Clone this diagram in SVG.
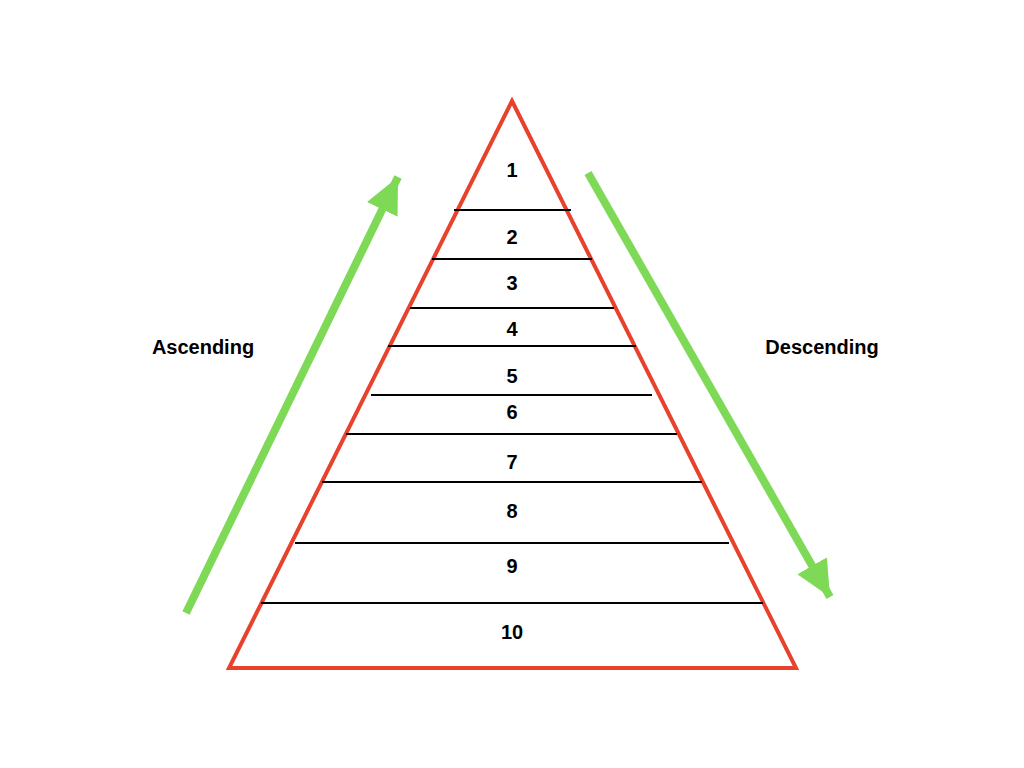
<svg xmlns="http://www.w3.org/2000/svg" width="1024" height="768" viewBox="0 0 1024 768">
<style>
.t{font-family:"Liberation Sans",Arial,sans-serif;font-weight:bold;font-size:20px;text-anchor:middle;fill:#000}
.d{stroke:#000;stroke-width:2}
.g{stroke:#7ED957;stroke-width:8;fill:none}
</style>
<defs>
<marker id="ah" markerUnits="userSpaceOnUse" markerWidth="40" markerHeight="36" refX="36" refY="17" orient="auto">
<path d="M0,0 L36,17 L0,34 z" fill="#7ED957"/>
</marker>
</defs>
<rect width="1024" height="768" fill="#fff"/>
<g id="pyramid">
<polygon points="512,101 796,668 229,668" fill="none" stroke="#E8412C" stroke-width="4"/>
<line class="d" x1="454" y1="210" x2="571" y2="210"/>
<line class="d" x1="432" y1="259" x2="592" y2="259"/>
<line class="d" x1="410" y1="308" x2="614" y2="308"/>
<line class="d" x1="388" y1="346" x2="636" y2="346"/>
<line class="d" x1="371" y1="395" x2="652" y2="395"/>
<line class="d" x1="346" y1="434" x2="677" y2="434"/>
<line class="d" x1="322" y1="482" x2="702" y2="482"/>
<line class="d" x1="295" y1="543" x2="729" y2="543"/>
<line class="d" x1="261" y1="603" x2="763" y2="603"/>
<text class="t" x="512" y="177">1</text>
<text class="t" x="512" y="244">2</text>
<text class="t" x="512" y="290">3</text>
<text class="t" x="512" y="336">4</text>
<text class="t" x="512" y="383">5</text>
<text class="t" x="512" y="419">6</text>
<text class="t" x="512" y="469">7</text>
<text class="t" x="512" y="518">8</text>
<text class="t" x="512" y="573">9</text>
<text class="t" x="512" y="639">10</text>
</g>
<g id="connectors">
<line class="g" x1="186" y1="613" x2="398" y2="177" marker-end="url(#ah)"/>
<line class="g" x1="588" y1="173" x2="830" y2="597" marker-end="url(#ah)"/>
</g>
<g id="labels">
<text class="t" x="203" y="354">Ascending</text>
<text class="t" x="822" y="354">Descending</text>
</g>
</svg>
